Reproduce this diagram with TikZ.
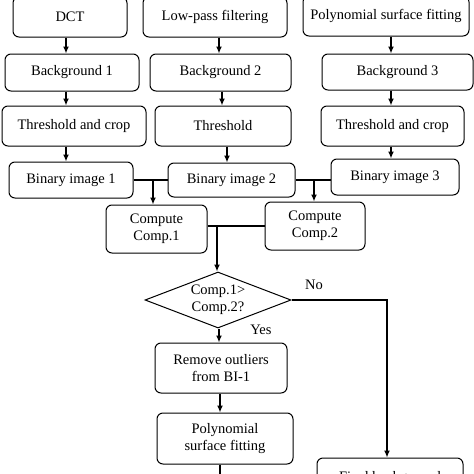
\documentclass[tikz,border=0pt]{standalone}
\usepackage{fontspec}
\setmainfont{Liberation Serif}
\usetikzlibrary{arrows.meta,shapes.geometric}
\begin{document}
\begin{tikzpicture}[x=1pt,y=-1pt,
  box/.style={draw,line width=1pt,rounded corners=6pt,align=center,inner sep=0pt,
    font=\fontsize{14.5}{17}\selectfont},
  dec/.style={draw,line width=1pt,diamond,aspect=2.6,inner sep=0pt,align=center,
    font=\fontsize{14.5}{17}\selectfont},
  lab/.style={font=\fontsize{14.5}{17}\selectfont,inner sep=0pt},
  arr/.style={line width=1.3pt,-{Latex[length=7pt,width=6pt]}},
  ln/.style={line width=1.3pt}]
\useasboundingbox (0,0) rectangle (474,474);
\clip (0,0) rectangle (474,474);
% columns
\coordinate (c1) at (66,0);
\coordinate (c2a) at (219,0);
\coordinate (c2b) at (222,0);
\coordinate (c2c) at (227,0);
\coordinate (c3) at (391,0);
\coordinate (j1) at (153,180);
\coordinate (j2) at (314,180);
\coordinate (j3) at (217,226);
\coordinate (c4) at (219,0);
\coordinate (c5) at (220,0);
\coordinate (cr) at (387,300);
\coordinate (endp) at (220,480);
% row 1
\node[box,minimum width=114pt,minimum height=40pt] (dct) at (70,17) {DCT};
\node[box,minimum width=144pt,minimum height=40pt] (lp) at (215,17) {Low-pass filtering};
\node[box,minimum width=166pt,minimum height=40pt] (psf) at (386,16) {Polynomial surface fitting};
% row 2
\node[box,minimum width=134pt,minimum height=37pt] (bg1) at (72,72.5) {Background 1};
\node[box,minimum width=141pt,minimum height=37pt] (bg2) at (220.5,72.5) {Background 2};
\node[box,minimum width=151pt,minimum height=36pt] (bg3) at (397.5,72) {Background 3};
% row 3
\node[box,minimum width=144pt,minimum height=40pt] (th1) at (74,126) {Threshold and crop};
\node[box,minimum width=136pt,minimum height=40pt] (th2) at (223,126) {Threshold};
\node[box,minimum width=143pt,minimum height=40pt] (th3) at (392.5,126) {Threshold and crop};
% row 4
\node[box,minimum width=124pt,minimum height=36pt] (bi1) at (71,180) {Binary image 1};
\node[box,minimum width=127pt,minimum height=34pt] (bi2) at (231.5,180) {Binary image 2};
\node[box,minimum width=128pt,minimum height=36pt] (bi3) at (395,177) {Binary image 3};
% compute
\node[box,minimum width=101pt,minimum height=48pt] (cp1) at (156.5,229) {Compute\\Comp.1};
\node[box,minimum width=100pt,minimum height=48pt] (cp2) at (315,226) {Compute\\Comp.2};
% decision
\node[dec,minimum width=146pt,minimum height=56pt] (dq) at (218,300) {Comp.1>\\Comp.2?};
\node[lab] (no) at (314,285) {No};
\node[lab] (yes) at (261,330) {Yes};
% lower boxes
\node[box,minimum width=132pt,minimum height=50pt] (ro) at (221,368) {Remove outliers\\from BI-1};
\node[box,minimum width=136pt,minimum height=51pt] (pf) at (225,438.5) {Polynomial\\surface fitting};
\node[box,minimum width=146pt,minimum height=40pt] (fb) at (390,478) {Final background};
% arrows columns
\draw[arr] (dct.south -| c1) -- (bg1.north -| c1);
\draw[arr] (bg1.south -| c1) -- (th1.north -| c1);
\draw[arr] (th1.south -| c1) -- (bi1.north -| c1);
\draw[arr] (lp.south -| c2a) -- (bg2.north -| c2a);
\draw[arr] (bg2.south -| c2b) -- (th2.north -| c2b);
\draw[arr] (th2.south -| c2c) -- (bi2.north -| c2c);
\draw[arr] (psf.south -| c3) -- (bg3.north -| c3);
\draw[arr] (bg3.south -| c3) -- (th3.north -| c3);
\draw[arr] (th3.south -| c3) -- (bi3.north -| c3);
% merges
\draw[ln] (bi1.east |- j1) -- (bi2.west |- j1);
\draw[arr] (j1) -- (cp1.north -| j1);
\draw[ln] (bi2.east |- j2) -- (bi3.west |- j2);
\draw[arr] (j2) -- (cp2.north -| j2);
\draw[ln] (cp1.east |- j3) -- (cp2.west |- j3);
\draw[arr] (j3) -- (dq.north -| j3);
% decision branches
\draw[arr] (dq.east) -- (cr) -- (fb.north -| cr);
\draw[arr] (dq.south -| c4) -- (ro.north -| c4);
\draw[arr] (ro.south -| c5) -- (pf.north -| c5);
\draw[ln] (pf.south -| c5) -- (endp);
\end{tikzpicture}
\end{document}
